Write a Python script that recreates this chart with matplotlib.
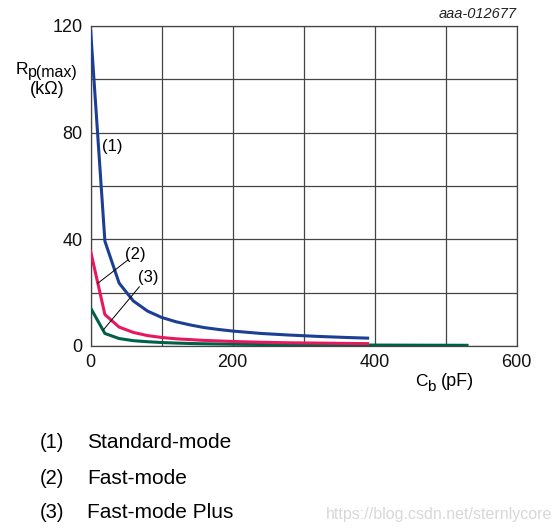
import matplotlib
matplotlib.use("Agg")
import matplotlib.pyplot as plt

plt.rcParams['font.family'] = ['Liberation Sans', 'DejaVu Sans']

# Data (Cb in pF, Rp(max) in kOhm)
cb_std = [0, 20, 40, 60, 80, 100, 120, 140, 160, 180, 200, 240, 280, 320, 360, 390]
rp_std = [118.0, 39.3, 23.6, 16.9, 13.1, 10.7, 9.1, 7.9, 6.9, 6.2, 5.6, 4.7, 4.1, 3.6, 3.2, 2.95]
cb_fast = [0, 20, 40, 60, 80, 100, 120, 140, 160, 180, 200, 240, 280, 320, 360, 390]
rp_fast = [35.4, 11.8, 7.1, 5.1, 3.9, 3.2, 2.7, 2.4, 2.1, 1.9, 1.7, 1.4, 1.2, 1.1, 0.96, 0.89]
cb_fmp = [0, 20, 40, 60, 80, 100, 120, 140, 160, 180, 200, 240, 280, 320, 360, 400, 450, 500, 530]
rp_fmp = [14.2, 4.7, 2.8, 2.0, 1.6, 1.3, 1.1, 0.94, 0.83, 0.75, 0.67, 0.57, 0.49, 0.43, 0.38,
          0.35, 0.31, 0.28, 0.26]

x_ticks = [0, 100, 200, 300, 400, 500, 600]
x_labels = ['0', '', '200', '', '400', '', '600']
y_ticks = [0, 20, 40, 60, 80, 100, 120]
y_labels = ['0', '', '40', '', '80', '', '120']

curve_labels = ['(1)', '(2)', '(3)']
legend_names = ['Standard-mode', 'Fast-mode', 'Fast-mode Plus']

c_std = '#1c3f95'
c_fast = '#e8185f'
c_fmp = '#00614b'

fig = plt.figure(figsize=(5.58, 5.31), dpi=100)
ax = fig.add_axes([90.7/558, 1-346/531, 426/558, 320/531])

ax.set_xlim(0, 600)
ax.set_ylim(0, 120)
ax.set_xticks(x_ticks)
ax.set_xticklabels(x_labels)
ax.set_yticks(y_ticks)
ax.set_yticklabels(y_labels)
ax.tick_params(length=0, labelsize=13, colors='#111111', pad=6)
ax.grid(True, color='#444444', linewidth=0.9)
for s in ax.spines.values():
    s.set_color('#444444')
    s.set_linewidth(0.9)

ax.plot(cb_fmp, rp_fmp, color=c_fmp, lw=2.2, solid_joinstyle='round', zorder=3)
ax.plot(cb_fast, rp_fast, color=c_fast, lw=2.2, solid_joinstyle='round', zorder=4)
ax.plot(cb_std, rp_std, color=c_std, lw=2.2, solid_joinstyle='round', zorder=5)

# curve labels
ax.text(30, 75, curve_labels[0], fontsize=12, ha='center', va='center', zorder=6)
ax.text(62.4, 34.4, curve_labels[1], fontsize=12, ha='center', va='center', zorder=6)
ax.text(81.1, 25.6, curve_labels[2], fontsize=12, ha='center', va='center', zorder=6)
ax.plot([52.1, 9.9], [32.2, 23.5], color='black', lw=0.7, zorder=6)
ax.plot([68.5, 17.7], [22.2, 6.0], color='black', lw=0.7, zorder=6)

# title tag
fig.text(517/558, 1-14/531, 'aaa-012677', fontsize=10.5, style='italic',
         ha='right', va='center', color='#222222')

# y label
fig.text(16/558, 1-69/531, 'R', fontsize=12.5, ha='left', va='center')
fig.text(28/558, 1-73/531, 'p(max)', fontsize=11.5, ha='left', va='center')
fig.text(47/558, 1-90/531, '(kΩ)', fontsize=13, ha='center', va='center')

# x label
fig.text(415/558, 1-382/531, 'C', fontsize=12.5, ha='left', va='center')
fig.text(427.5/558, 1-387/531, 'b', fontsize=11, ha='left', va='center')
fig.text(441/558, 1-382/531, '(pF)', fontsize=13, ha='left', va='center')

# legend text
leg_y = [442, 478, 513]
for lab, name, yy in zip(curve_labels, legend_names, leg_y):
    fig.text(40/558, 1-yy/531, lab, fontsize=14.5, ha='left', va='center')
    fig.text(87/558, 1-yy/531, name, fontsize=15, ha='left', va='center')

fig.text(552/558, 1-514/531, 'https://blog.csdn.net/sternlycore', fontsize=11.5,
         ha='right', va='center', color='#d8d8d8')

fig.savefig('out.png', dpi=100)
